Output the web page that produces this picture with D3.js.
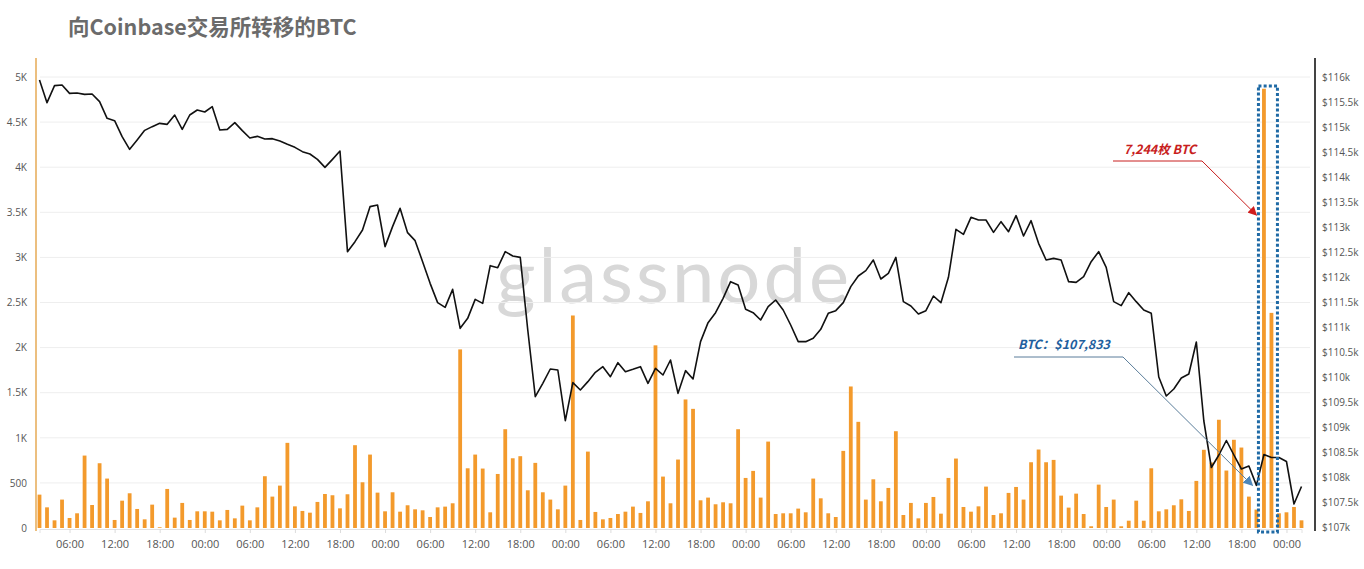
<!DOCTYPE html>
<html>
<head>
<meta charset="utf-8">
<script src="https://cdn.jsdelivr.net/npm/d3@7/dist/d3.min.js"></script>
<style>
  html, body { margin: 0; padding: 0; background: #fff; }
  svg { display: block; }
  text { font-family: "Open Sans", "Noto Sans", sans-serif; }
</style>
</head>
<body>
<svg id="chart" width="1364" height="569"></svg>
<script>
// ---------- DATA ----------
const titleText = "向Coinbase交易所转移的BTC";
const startTime = "2025-08-24T02:00:00";   // first hourly bucket
const hoursCount = 169;                     // hourly buckets shown

// BTC transferred to Coinbase per hour
const transfers = [
  370,229,85,315,111,163,803,255,718,548,
  89,303,385,211,96,259,8,433,115,278,
  89,185,185,181,85,200,107,248,85,229,
  574,348,470,944,240,189,170,289,377,363,
  218,374,918,507,814,392,185,396,181,252,
  207,196,122,229,237,274,1980,662,814,659,
  174,599,1095,773,796,418,722,396,315,207,
  470,2356,89,847,178,96,111,155,181,237,
  167,296,2025,570,274,759,1425,1321,307,337,
  263,285,274,1095,555,633,337,958,155,163,
  163,215,174,548,329,163,122,855,1569,1177,
  315,540,296,444,1073,144,278,107,278,344,
  159,555,770,233,181,240,459,144,163,389,
  455,315,729,870,729,755,359,226,381,155,
  19,481,233,315,19,81,303,81,662,185,
  207,252,318,189,522,867,726,1200,637,978,
  892,348,204,4870,2385,163,174,233,85
];

// BTC price (USD) per hour
const btcPrice = [
  115940,115487,115827,115840,115673,115680,115653,115660,115507,115173,
  115127,114807,114553,114740,114933,115007,115073,115053,115240,114953,
  115240,115340,115300,115407,114940,114953,115087,114927,114780,114813,
  114760,114767,114720,114653,114593,114507,114460,114353,114193,114353,
  114520,112507,112707,112940,113407,113440,112607,113007,113373,112887,
  112727,112307,111873,111487,111393,111753,110973,111173,111553,111473,
  112227,112187,112507,112420,112393,110940,109607,109873,110160,110140,
  109127,109887,109740,109907,110093,110207,110007,110287,110107,110153,
  110207,109873,110173,110040,110340,109673,110127,109960,110707,111087,
  111287,111573,111907,111840,111353,111287,111140,111407,111540,111340,
  111040,110707,110707,110773,110953,111273,111327,111487,111807,112020,
  112127,112340,111960,112073,112393,111507,111420,111260,111327,111620,
  111487,111993,112953,112853,113193,113140,113140,112893,113107,112907,
  113227,112820,113127,112673,112340,112373,112340,111907,111893,112007,
  112307,112507,112193,111507,111427,111687,111507,111340,111273,110000,
  109620,109760,109980,110060,110700,109120,108190,108440,108730,108440,
  108160,108220,107833,108450,108390,108390,108310,107460,107810
];

const leftTicks = [0,500,1000,1500,2000,2500,3000,3500,4000,4500,5000];
const leftTickLabels = ["0","500","1K","1.5K","2K","2.5K","3K","3.5K","4K","4.5K","5K"];
const rightTicks = [107000,107500,108000,108500,109000,109500,110000,110500,111000,111500,112000,112500,113000,113500,114000,114500,115000,115500,116000];
const rightTickLabels = ["$107k","$107.5k","$108k","$108.5k","$109k","$109.5k","$110k","$110.5k","$111k","$111.5k","$112k","$112.5k","$113k","$113.5k","$114k","$114.5k","$115k","$115.5k","$116k"];

const highlightIndex = 163;      // the spike bucket
const lowIndex = 162;            // the price low
const annoSpike = "7,244枚 BTC";
const annoPrice = "BTC：$107,833";
const watermark = "glassnode";

// ---------- CHART ----------
const svg = d3.select("#chart");
const t0 = new Date(startTime);
const times = d3.range(hoursCount).map(i => d3.timeHour.offset(t0, i));

const x = d3.scaleTime().domain([times[0], times[times.length-1]]).range([39.5, 1301.5]);
const yL = d3.scaleLinear().domain([0, 5000]).range([528, 77]);
const yR = d3.scaleLinear().domain([107000, 116000]).range([527, 77]);

// watermark
svg.append("text").attr("x", 674).attr("y", 303).attr("text-anchor", "middle")
  .style("font-family", "Lato, 'Open Sans', sans-serif").style("font-size", "76px")
  .style("letter-spacing", "3px")
  .style("font-weight", "400").style("fill", "#d8d8d8").text(watermark);

// gridlines
svg.append("g").selectAll("line").data(leftTicks.slice(1)).join("line")
  .attr("x1", 40).attr("x2", 1310)
  .attr("y1", d => yL(d)).attr("y2", d => yL(d))
  .attr("stroke", "#eeeeee").attr("stroke-width", 1);

// x axis
const xTicks = d3.timeHour.every(6).range(times[0], d3.timeHour.offset(times[times.length-1], 1));
const xAxis = d3.axisBottom(x).tickValues(xTicks).tickFormat(d3.timeFormat("%H:%M")).tickSize(4).tickPadding(7);
const gx = svg.append("g").attr("transform", "translate(0,529)").call(xAxis);
gx.select(".domain").attr("stroke", "#e2e2e2");
gx.selectAll(".tick line").attr("stroke", "#dcdcdc");
gx.selectAll(".tick text").style("font-size", "11px").style("fill", "#555").style("font-family", "'Open Sans', sans-serif");

// left axis
const gl = svg.append("g").attr("transform", "translate(36,0)")
  .call(d3.axisLeft(yL).tickValues(leftTicks).tickFormat((d,i) => leftTickLabels[i]).tickSize(0).tickPadding(9));
gl.select(".domain").remove();
gl.selectAll(".tick text").style("font-size", "10px").style("fill", "#555");
svg.append("line").attr("x1", 36).attr("x2", 36).attr("y1", 58).attr("y2", 531)
  .attr("stroke", "#ecbf7f").attr("stroke-width", 2);

// right axis
const gr = svg.append("g").attr("transform", "translate(1315,0)")
  .call(d3.axisRight(yR).tickValues(rightTicks).tickFormat((d,i) => rightTickLabels[i]).tickSize(0).tickPadding(7));
gr.select(".domain").remove();
gr.selectAll(".tick text").style("font-size", "10px").style("fill", "#555");
svg.append("line").attr("x1", 1315).attr("x2", 1315).attr("y1", 58).attr("y2", 531)
  .attr("stroke", "#444").attr("stroke-width", 2);

// bars
const bw = 3.8;
svg.append("g").selectAll("rect").data(transfers).join("rect")
  .attr("x", (d,i) => x(times[i]) - bw/2)
  .attr("y", d => yL(d))
  .attr("width", bw)
  .attr("height", d => yL(0) - yL(d))
  .attr("fill", "#f39a2c");

// price line
svg.append("path").datum(btcPrice)
  .attr("d", d3.line().x((d,i) => x(times[i])).y(d => yR(d)))
  .attr("fill", "none").attr("stroke", "#111").attr("stroke-width", 1.6)
  .attr("stroke-linejoin", "round");

// highlight box
const hx = x(times[highlightIndex]);
svg.append("rect").attr("x", hx - 5.5).attr("y", 86).attr("width", 19).attr("height", 446)
  .attr("fill", "none").attr("stroke", "#1f6aa5").attr("stroke-width", 3)
  .attr("stroke-dasharray", "3,2.2");

// markers
const defs = svg.append("defs");
defs.append("marker").attr("id", "arrRed").attr("viewBox", "0 0 10 10").attr("refX", 9).attr("refY", 5)
  .attr("markerWidth", 9).attr("markerHeight", 9).attr("markerUnits", "userSpaceOnUse").attr("orient", "auto")
  .append("path").attr("d", "M0,0 L10,5 L0,10 z").attr("fill", "#d01c1c");
defs.append("marker").attr("id", "arrBlue").attr("viewBox", "0 0 10 10").attr("refX", 9).attr("refY", 5)
  .attr("markerWidth", 10).attr("markerHeight", 10).attr("markerUnits", "userSpaceOnUse").attr("orient", "auto")
  .append("path").attr("d", "M0,0 L10,5 L0,10 z").attr("fill", "#4d86b8");

// red annotation
const spikeTipX = hx - 7.5, spikeTipY = 215;
svg.append("polyline").attr("points", `1113,161 1202,161 ${spikeTipX},${spikeTipY}`)
  .attr("fill", "none").attr("stroke", "#c81e1e").attr("stroke-width", 1).attr("marker-end", "url(#arrRed)");
svg.append("text").attr("x", 1160).attr("y", 154).attr("text-anchor", "middle")
  .style("font-family", "'Noto Sans CJK SC', 'Open Sans', sans-serif")
  .style("font-size", "12.5px").style("font-style", "italic").style("font-weight", "700")
  .style("fill", "#c81e1e").text(annoSpike);

// blue annotation
const lowX = x(times[lowIndex]) - 4, lowY = yR(btcPrice[lowIndex]);
svg.append("polyline").attr("points", `1014,357 1123,357 ${lowX},${lowY}`)
  .attr("fill", "none").attr("stroke", "#5a7d9a").attr("stroke-width", 1).attr("marker-end", "url(#arrBlue)");
svg.append("text").attr("x", 1064).attr("y", 349).attr("text-anchor", "middle")
  .style("font-family", "'Noto Sans CJK SC', 'Open Sans', sans-serif")
  .style("font-size", "12.5px").style("font-style", "italic").style("font-weight", "700")
  .style("fill", "#1f5f9e").text(annoPrice);

// title
svg.append("text").attr("x", 68).attr("y", 35)
  .style("font-family", "'Noto Sans CJK SC', sans-serif").style("font-size", "21.5px").style("font-weight", "700")
  .style("fill", "#6b6b6b").text(titleText);
</script>
</body>
</html>
